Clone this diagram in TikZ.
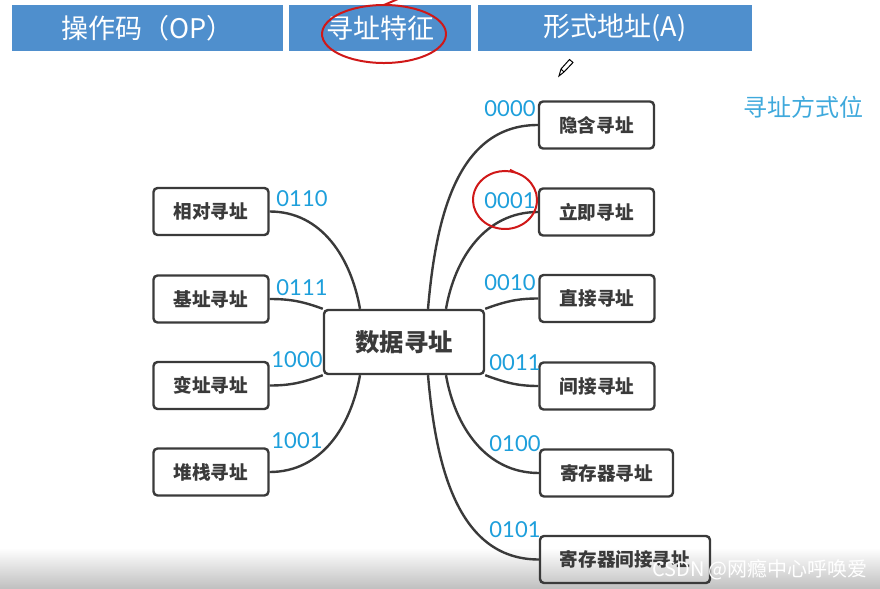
\documentclass[tikz,border=0pt]{standalone}
\usepackage{fontspec}
\newfontfamily\cjk{Noto Sans CJK SC}
\newfontfamily\numfont{Lato}
\definecolor{header}{HTML}{4F8FCD}
\definecolor{ink}{HTML}{3A3A3A}
\definecolor{code}{HTML}{1E9FDB}
\definecolor{note}{HTML}{3FA9DC}
\definecolor{marker}{HTML}{D01818}

\begin{document}
\begin{tikzpicture}[x=0.5pt,y=-0.5pt,every node/.style={inner sep=0pt},
  head/.style={fill=header,minimum height=23pt,text=white,font=\cjk\fontsize{13.5}{15}\selectfont},
  mode/.style={draw=ink,line width=1.2pt,rounded corners=2pt,minimum width=57.5pt,minimum height=23.5pt,text=ink,font=\cjk\bfseries\fontsize{9.3}{11}\selectfont},
  bits/.style={text=code,font=\numfont\fontsize{11}{12}\selectfont},
  link/.style={draw=ink,line width=1.2pt},
  marker/.style={draw=marker,line width=1pt}]
\useasboundingbox (0,0) rectangle (880,589);
\shade[top color=white,bottom color=black!25] (0,548) rectangle (880,589);
\node[head,minimum width=135.5pt] (op) at (147.5,28) {操作码（OP）};
\node[head,minimum width=91pt] (feat) at (380,28) {寻址特征};
\node[head,minimum width=137pt] (addr) at (615,28) {形式地址(A)};
\node[text=note,font=\cjk\fontsize{12}{14}\selectfont] (hint) at (803,107) {寻址方式位};
\node[mode,minimum width=80pt,minimum height=32pt,font=\cjk\bfseries\fontsize{12.2}{14}\selectfont] (data) at (404,342) {数据寻址};
\node[mode] (rel) at (211,211.5) {相对寻址};
\node[mode] (base) at (211,299) {基址寻址};
\node[mode] (index) at (211,385.5) {变址寻址};
\node[mode] (stack) at (211,472) {堆栈寻址};
\node[mode] (impl) at (596.5,125) {隐含寻址};
\node[mode] (imm) at (596.5,212) {立即寻址};
\node[mode] (dir) at (597,298.5) {直接寻址};
\node[mode] (ind) at (597,386) {间接寻址};
\node[mode,minimum width=66.5pt] (reg) at (606.5,473) {寄存器寻址};
\node[mode,minimum width=85pt] (regind) at (625,559.5) {寄存器间接寻址};
\node[bits] (b0110) at (302,199) {0110};
\node[bits] (b0111) at (302,288) {0111};
\node[bits] (b1000) at (297,360) {1000};
\node[bits] (b1001) at (297,441) {1001};
\node[bits] (b0000) at (510,109) {0000};
\node[bits] (b0001) at (510,201) {0001};
\node[bits] (b0010) at (510,283) {0010};
\node[bits] (b0011) at (515,363) {0011};
\node[bits] (b0100) at (515,444) {0100};
\node[bits] (b0101) at (515,530) {0101};
\draw[link] ([xshift=-22pt]data.north) to[out=100,in=0] (rel.east);
\draw[link] (data.north west) to[out=160,in=0] (base.east);
\draw[link] (data.south west) to[out=200,in=0] (index.east);
\draw[link] ([xshift=-22pt]data.south) to[out=260,in=0] (stack.east);
\draw[link] ([xshift=12pt]data.north) to[out=85,in=180] (impl.west);
\draw[link] ([xshift=21pt]data.north) to[out=80,in=180] (imm.west);
\draw[link] (data.north east) to[out=20,in=180] (dir.west);
\draw[link] (data.south east) to[out=-20,in=180] (ind.west);
\draw[link] ([xshift=21pt]data.south) to[out=-80,in=180] (reg.west);
\draw[link] ([xshift=12pt]data.south) to[out=-85,in=180] (regind.west);
\draw[marker] (384,34) ++(250:62 and 29) arc[start angle=250,end angle=630,x radius=62,y radius=29] -- ++(14,-6);
\draw[marker] (505,200) ++(280:32 and 29) arc[start angle=280,end angle=650,x radius=32,y radius=29] -- ++(-6,-3);
\draw[line width=0.5pt] (559,76) -- (561,69) -- (569.5,59.5) -- (573,62.5) -- (564,72) -- cycle (561,69) -- (564,72);
\node[text=white,font=\cjk\fontsize{10}{12}\selectfont] (mark) at (760,570) {CSDN @网瘾中心呼唤爱};
\end{tikzpicture}
\end{document}
